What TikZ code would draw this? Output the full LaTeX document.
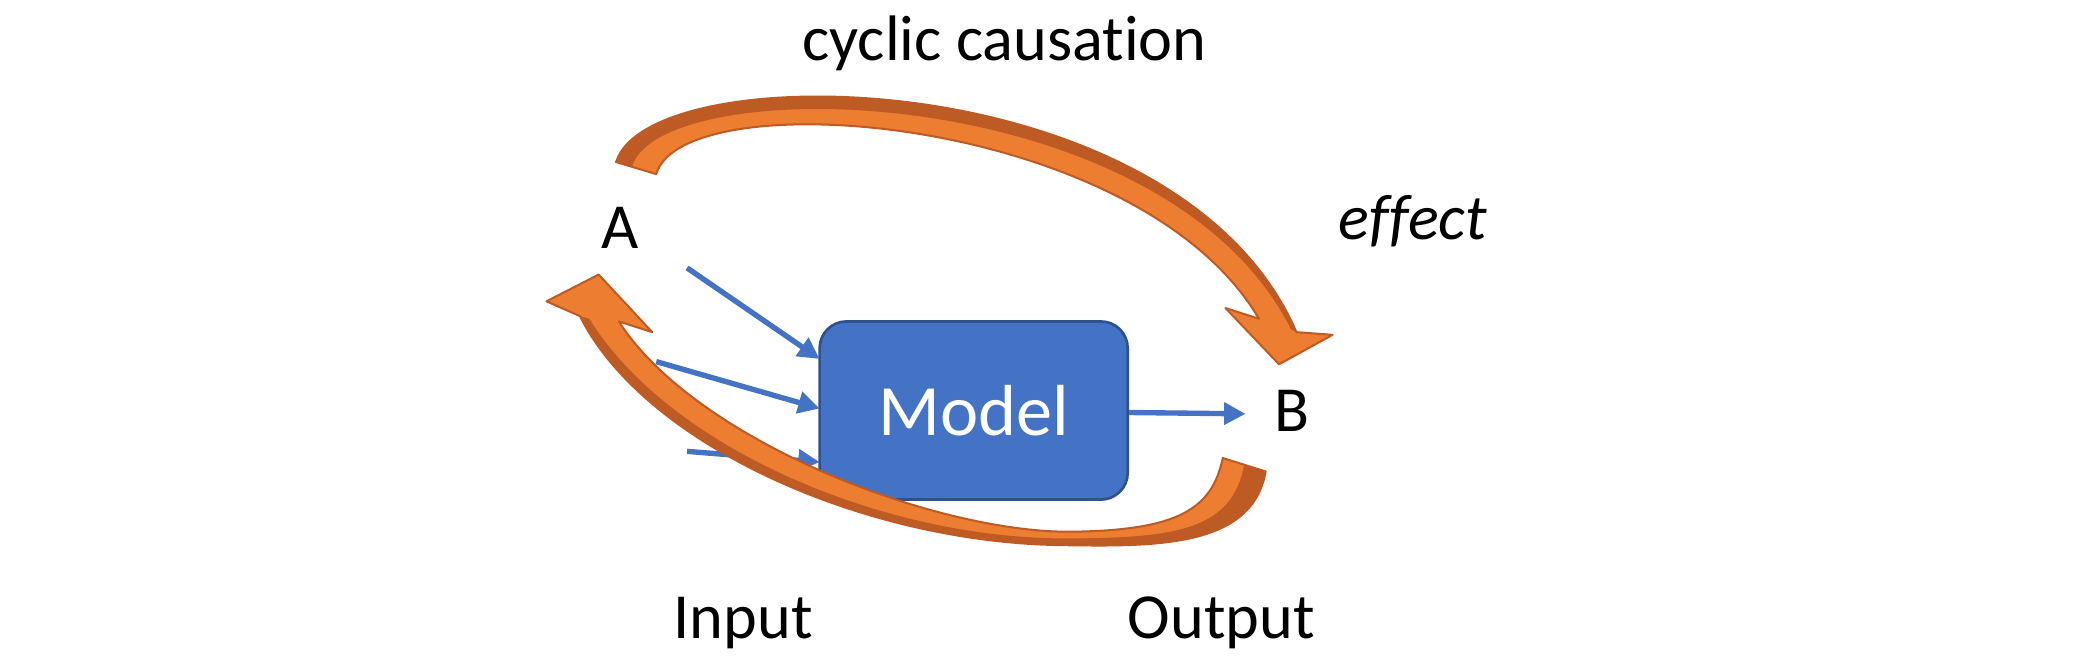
\documentclass[tikz,border=0pt]{standalone}
\usepackage{fontspec}
\setmainfont{Carlito}[Ligatures={NoCommon}]
\usetikzlibrary{arrows.meta}
\definecolor{bfill}{HTML}{4472C4}
\definecolor{bdraw}{HTML}{2F528F}
\definecolor{ofill}{HTML}{ED7D31}
\definecolor{odark}{HTML}{BE5B25}
\begin{document}
\begin{tikzpicture}[x=1pt,y=-1pt,
  lbl/.style={font=\fontsize{48}{54}\selectfont, inner sep=0pt},
  blue/.style={draw=bfill, line width=4pt, -{Triangle[length=16pt,width=16pt]}},
  band/.style={fill=ofill, draw=odark, line width=1.5pt, line join=round}]
\useasboundingbox (0,0) rectangle (1568,499);
\node[lbl] (cc) at (750,32) {cyclic causation};
\node[lbl] (A) at (463,170) {A};
\node[lbl] (eff) at (1055,165) {\itshape effect};
\node[lbl] (B) at (965,307) {B};
\node[lbl] (in) at (555,465) {Input};
\node[lbl] (out) at (912,465) {Output};
\node[draw=bdraw, fill=bfill, line width=2pt, rounded corners=20pt, minimum width=230pt, minimum height=133pt, text=white, font=\fontsize{54}{58}\selectfont] (M) at (727,306.5) {Model};
\coordinate (s1) at (513,200);
\coordinate (s2) at (490,270);
\coordinate (s3) at (513,337);
\coordinate (e1) at (612,268);
\coordinate (e2) at (612,305);
\coordinate (e3) at (612,345);
\coordinate (bo) at (930,309);
\draw[blue] (s1) -- (e1);
\draw[blue] (s2) -- (e2);
\draw[blue] (s3) -- (e3);
\draw[blue] (M.east |- 0,308) -- (bo);
% top arrow
\draw[band] (460,121) .. controls (485,40) and (880,45) .. (968,248) -- (995,250) -- (955,272) -- (915,230) -- (940,238) .. controls (850,85) and (510,60) .. (490,130) -- cycle;
\fill[odark] (460,121) .. controls (485,40) and (880,45) .. (968,248) -- (964,246) .. controls (870,58) and (495,52) .. (472,124) -- cycle;
% bottom arrow
\draw[band] (945,352) .. controls (935,410) and (860,408) .. (790,407) .. controls (640,404) and (480,330) .. (433,236) -- (408,225) -- (447,205) -- (487,248) -- (462,240) .. controls (520,330) and (700,398) .. (800,397) .. controls (880,396) and (905,380) .. (913,342) -- cycle;
\fill[odark] (945,352) .. controls (935,410) and (860,408) .. (790,407) .. controls (640,404) and (480,330) .. (433,236) -- (440,238) .. controls (500,335) and (660,402) .. (795,402) .. controls (880,402) and (920,395) .. (929,347) -- cycle;
\end{tikzpicture}
\end{document}
